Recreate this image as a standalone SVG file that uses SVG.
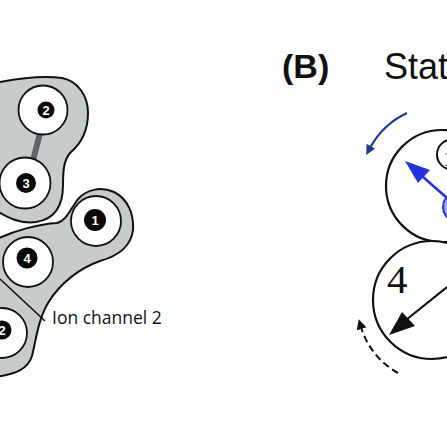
<svg xmlns="http://www.w3.org/2000/svg" width="447" height="447" viewBox="0 0 447 447">
<style>
.region{fill:#c6cbcb;stroke:#111;stroke-width:2;stroke-linejoin:round}
.pore{fill:#fff;stroke:#111;stroke-width:1.8}
.dot{fill:#0a0a0a}
.num{font-family:"Liberation Sans",Arial,sans-serif;font-weight:bold;font-size:13px;fill:#fff;text-anchor:middle}
.big{fill:#fff;stroke:#111;stroke-width:2.2}
.label{font-family:"Open Sans","Noto Sans",sans-serif;font-size:17.5px;fill:#111}
</style>
<defs>
<marker id="navyHead" viewBox="0 0 10 10" refX="2" refY="5" markerWidth="5" markerHeight="5" orient="auto" markerUnits="strokeWidth">
<path d="M0,0 L10,5 L0,10 z" fill="#1d3a8f"/>
</marker>
<marker id="dashHead" viewBox="0 0 10 10" refX="2" refY="5" markerWidth="5" markerHeight="5" orient="auto" markerUnits="strokeWidth">
<path d="M0,0 L10,5 L0,10 z" fill="#111"/>
</marker>
</defs>
<rect width="447" height="447" fill="#fff"/>

<g id="channel1">
<path class="region" d="M-5,83 C15,79 40,75 62,78 C78,81 88,96 88,113 C88,130 82,143 70,153 C64,160 63,170 63,185 C63,205 56,219 36,222 C20,224 8,218 -5,210 Z"/>
</g>
<g id="channel2">
<path class="region" d="M-5,240 C15,230 40,224 57,223 C66,221 70,210 78,199 C86,190 100,186 114,192 C128,199 134,214 133,230 C131,246 118,256 100,261 C80,268 60,283 48,303 C38,320 36,340 32,356 C28,368 18,374 -5,377 Z"/>
</g>
<g id="connectors">
<line x1="0" y1="279" x2="45" y2="321" stroke="#111" stroke-width="1.6"/>
<line x1="46" y1="110" x2="28" y2="180" stroke="#5d6566" stroke-width="6"/>
</g>
<g id="pore2">
<circle class="pore" cx="43" cy="110" r="24.5"/>
<circle class="dot" cx="46" cy="110" r="8.5"/>
<text class="num" x="46" y="114.5">2</text>
</g>
<g id="pore3">
<circle class="pore" cx="25" cy="183" r="25.5"/>
<circle class="dot" cx="26" cy="183" r="10"/>
<text class="num" x="26" y="187.5">3</text>
</g>
<g id="pore1">
<circle class="pore" cx="96" cy="221" r="25"/>
<circle class="dot" cx="95" cy="220" r="11"/>
<text class="num" x="95" y="224.5">1</text>
</g>
<g id="pore4">
<circle class="pore" cx="28" cy="262" r="25"/>
<circle class="dot" cx="27" cy="258" r="10.5"/>
<text class="num" x="27" y="262.5">4</text>
</g>
<g id="pore2b">
<circle class="pore" cx="2" cy="333" r="25"/>
<circle class="dot" cx="2" cy="330" r="9.5"/>
<text class="num" x="2" y="334.5">2</text>
</g>
<text class="label" x="52" y="324">Ion channel 2</text>

<text x="282" y="78" font-family="Liberation Sans,Arial,sans-serif" font-weight="bold" font-size="34" fill="#111">(B)</text>
<text x="384" y="79" font-family="Liberation Sans,Arial,sans-serif" font-size="36" fill="#111">Stat</text>

<g id="stateUpper">
<circle class="big" cx="442" cy="186" r="56"/>
<circle cx="452" cy="154.5" r="15" fill="#fff" stroke="#111" stroke-width="2"/>
<text x="443" y="166" font-family="Liberation Serif,serif" font-size="22" fill="#111">1</text>
<ellipse cx="452" cy="207" rx="9" ry="12" fill="#9ea9ee" stroke="#2233dd" stroke-width="2"/>
</g>
<g id="stateLower">
<circle class="big" cx="432" cy="300" r="59"/>
<text x="387" y="293" font-family="Liberation Serif,serif" font-size="41" fill="#111">4</text>
</g>
<g id="arrows">
<line x1="447" y1="198" x2="422" y2="176" stroke="#2233dd" stroke-width="2.5"/>
<polygon points="405,161 418,183 430,170" fill="#2233dd"/>
<line x1="447" y1="287" x2="406" y2="320" stroke="#111" stroke-width="2.2"/>
<polygon points="389,335 402,312 415,326" fill="#111"/>
<path d="M407,113 A81,81 0 0,0 370,148" fill="none" stroke="#1d3a8f" stroke-width="2" marker-end="url(#navyHead)"/>
<path d="M398,373 A78,78 0 0,1 361,327" fill="none" stroke="#111" stroke-width="2" stroke-dasharray="7,4" marker-end="url(#dashHead)"/>
</g>
</svg>
